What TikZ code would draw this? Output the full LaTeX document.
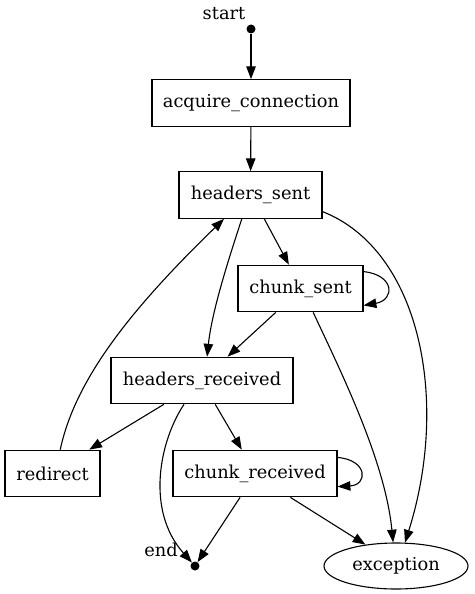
\documentclass[tikz,border=0pt]{standalone}
\usepackage{fontspec}
\setmainfont{DejaVu Serif}
\usetikzlibrary{arrows.meta,shapes.geometric}

\begin{document}
\begin{tikzpicture}[x=1pt,y=-1pt,
  every node/.style={font=\fontsize{17.8}{20}\selectfont},
  state/.style={draw,rectangle,minimum height=46.5pt,inner sep=0pt,line width=1.2pt},
  dot/.style={circle,fill,inner sep=0pt,minimum size=9pt},
  edge/.style={-{Triangle[length=12.8pt,width=9.5pt]},line width=1.1pt}]
\useasboundingbox (0,0) rectangle (474,594);
\node[dot] (startpt) at (251,29) {};
\node (startlbl) at (224,14) {start};
\node[state,minimum width=198pt] (acquire) at (251,103) {acquire\_connection};
\node[state,minimum width=143pt] (hsent) at (250.5,195) {headers\_sent};
\node[state,minimum width=125pt] (csent) at (300.5,288.5) {chunk\_sent};
\node[state,minimum width=182pt] (hrecv) at (202,380.5) {headers\_received};
\node[state,minimum width=95pt] (redirect) at (52.5,473.5) {redirect};
\node[state,minimum width=164pt] (crecv) at (255,473.5) {chunk\_received};
\node[dot] (endpt) at (195,566) {};
\node (endlbl) at (161,550) {end};
\node[draw,ellipse,minimum width=144pt,minimum height=46pt,inner sep=0pt,line width=1.1pt] (exception) at (396,566) {exception};

\draw[edge] (startpt) -- (acquire);
\draw[edge] (acquire) -- (hsent);
\draw[edge] (hsent.-60) -- (csent.116);
\draw[edge] (hsent.-110) .. controls (230,255) and (212,310) .. (hrecv.78);
\draw[edge] (hsent.-13) .. controls (420,250) and (450,400) .. (exception.69);
\draw[edge] (csent.-136) -- (hrecv.43);
\draw[edge] (csent.-62) .. controls (340,370) and (385,460) .. (exception.97);
\draw[edge] (csent.15) .. controls (395,275) and (395,300) .. (csent.-15);
\draw[edge] (hrecv.-148) -- (redirect.33);
\draw[edge] (hrecv.-127) .. controls (160,440) and (145,510) .. (endpt);
\draw[edge] (hrecv.-61) -- (crecv.119);
\draw[edge] (redirect.72) .. controls (75,380) and (130,310) .. (hsent.-138);
\draw[edge] (crecv.-122) -- (endpt);
\draw[edge] (crecv.-34) -- (exception.145);
\draw[edge] (crecv.11) .. controls (368,460) and (368,485) .. (crecv.-9);
\end{tikzpicture}
\end{document}
